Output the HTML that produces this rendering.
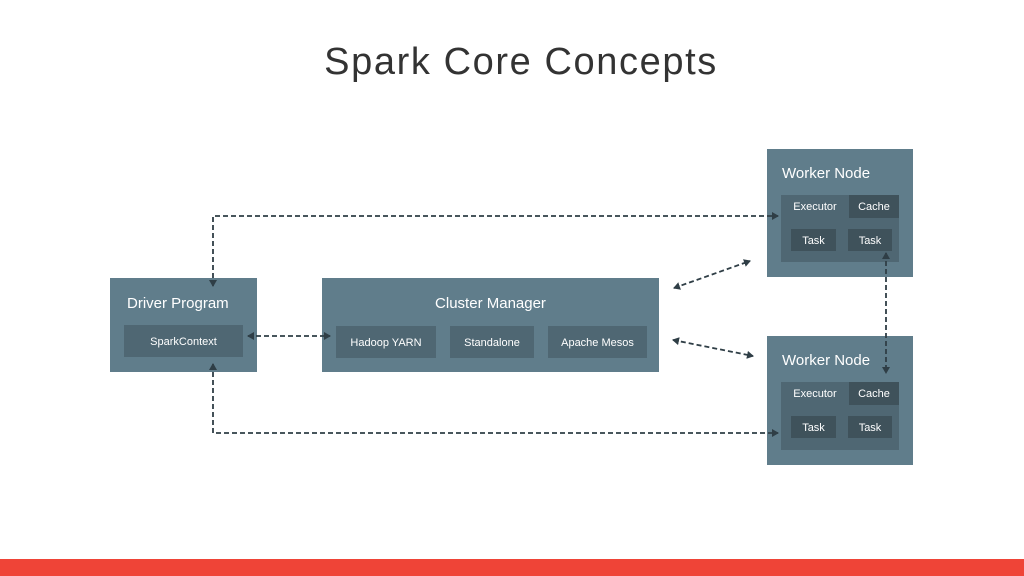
<!DOCTYPE html><html><head><style>
body{margin:0;width:1024px;height:576px;background:#fff;position:relative;overflow:hidden;font-family:"Liberation Sans",sans-serif}
.a{position:absolute}
.box{background:#607d8b;position:absolute}
.in{background:#4f6773;position:absolute}
.dk{background:#3f525b;position:absolute;color:#fff;font-size:11px;display:flex;align-items:center;justify-content:center;padding-top:1px;box-sizing:border-box}
.t{position:absolute;color:#fff;font-size:15px}
</style></head><body>
<div class="a" style="left:0;top:41px;width:1042px;text-align:center;font-size:38px;color:#333;letter-spacing:1.6px">Spark Core Concepts</div>
<div class="box" style="left:110px;top:278px;width:147px;height:94px"></div>
<div class="t" style="left:127px;top:295px">Driver Program</div>
<div class="dk" style="left:124px;top:325px;width:119px;height:32px;background:#4f6773">SparkContext</div>
<div class="box" style="left:322px;top:278px;width:337px;height:94px"></div>
<div class="t" style="left:322px;width:337px;text-align:center;top:295px">Cluster Manager</div>
<div class="dk" style="left:336px;top:326px;width:100px;height:32px;background:#4f6773">Hadoop YARN</div>
<div class="dk" style="left:450px;top:326px;width:84px;height:32px;background:#4f6773">Standalone</div>
<div class="dk" style="left:548px;top:326px;width:99px;height:32px;background:#4f6773">Apache Mesos</div>

<div class="box" style="left:767px;top:149px;width:146px;height:128px"></div>
<div class="t" style="left:782px;top:165px">Worker Node</div>
<div class="in" style="left:781px;top:195px;width:118px;height:67px"></div>
<div class="dk" style="left:781px;top:195px;width:68px;height:23px;background:none">Executor</div>
<div class="dk" style="left:849px;top:195px;width:50px;height:23px">Cache</div>
<div class="dk" style="left:791px;top:229px;width:45px;height:22px">Task</div>
<div class="dk" style="left:848px;top:229px;width:44px;height:22px">Task</div>

<div class="box" style="left:767px;top:336px;width:146px;height:129px"></div>
<div class="t" style="left:782px;top:352px">Worker Node</div>
<div class="in" style="left:781px;top:382px;width:118px;height:68px"></div>
<div class="dk" style="left:781px;top:382px;width:68px;height:23px;background:none">Executor</div>
<div class="dk" style="left:849px;top:382px;width:50px;height:23px">Cache</div>
<div class="dk" style="left:791px;top:416px;width:45px;height:22px">Task</div>
<div class="dk" style="left:848px;top:416px;width:44px;height:22px">Task</div>

<div class="a" style="left:0;top:559px;width:1024px;height:17px;background:#ef4437"></div>

<svg class="a" style="left:0;top:0" width="1024" height="576">
<defs><marker id="m" markerWidth="8" markerHeight="8" refX="6" refY="4" orient="auto-start-reverse" markerUnits="userSpaceOnUse"><path d="M0,0 L7,4 L0,8 Z" fill="#2f3e46"/></marker></defs>
<g stroke="#2f3e46" stroke-width="1.8" stroke-dasharray="5,3" fill="none">
<polyline points="213,286 213,216 778,216" marker-start="url(#m)" marker-end="url(#m)"/>
<polyline points="213,364 213,433 778,433" marker-start="url(#m)" marker-end="url(#m)"/>
<line x1="248" y1="336" x2="330" y2="336" marker-start="url(#m)" marker-end="url(#m)"/>
<line x1="674" y1="288" x2="750" y2="261" marker-start="url(#m)" marker-end="url(#m)"/>
<line x1="673" y1="340" x2="753" y2="356" marker-start="url(#m)" marker-end="url(#m)"/>
<line x1="886" y1="253" x2="886" y2="373" marker-start="url(#m)" marker-end="url(#m)"/>
</g></svg>
</body></html>
